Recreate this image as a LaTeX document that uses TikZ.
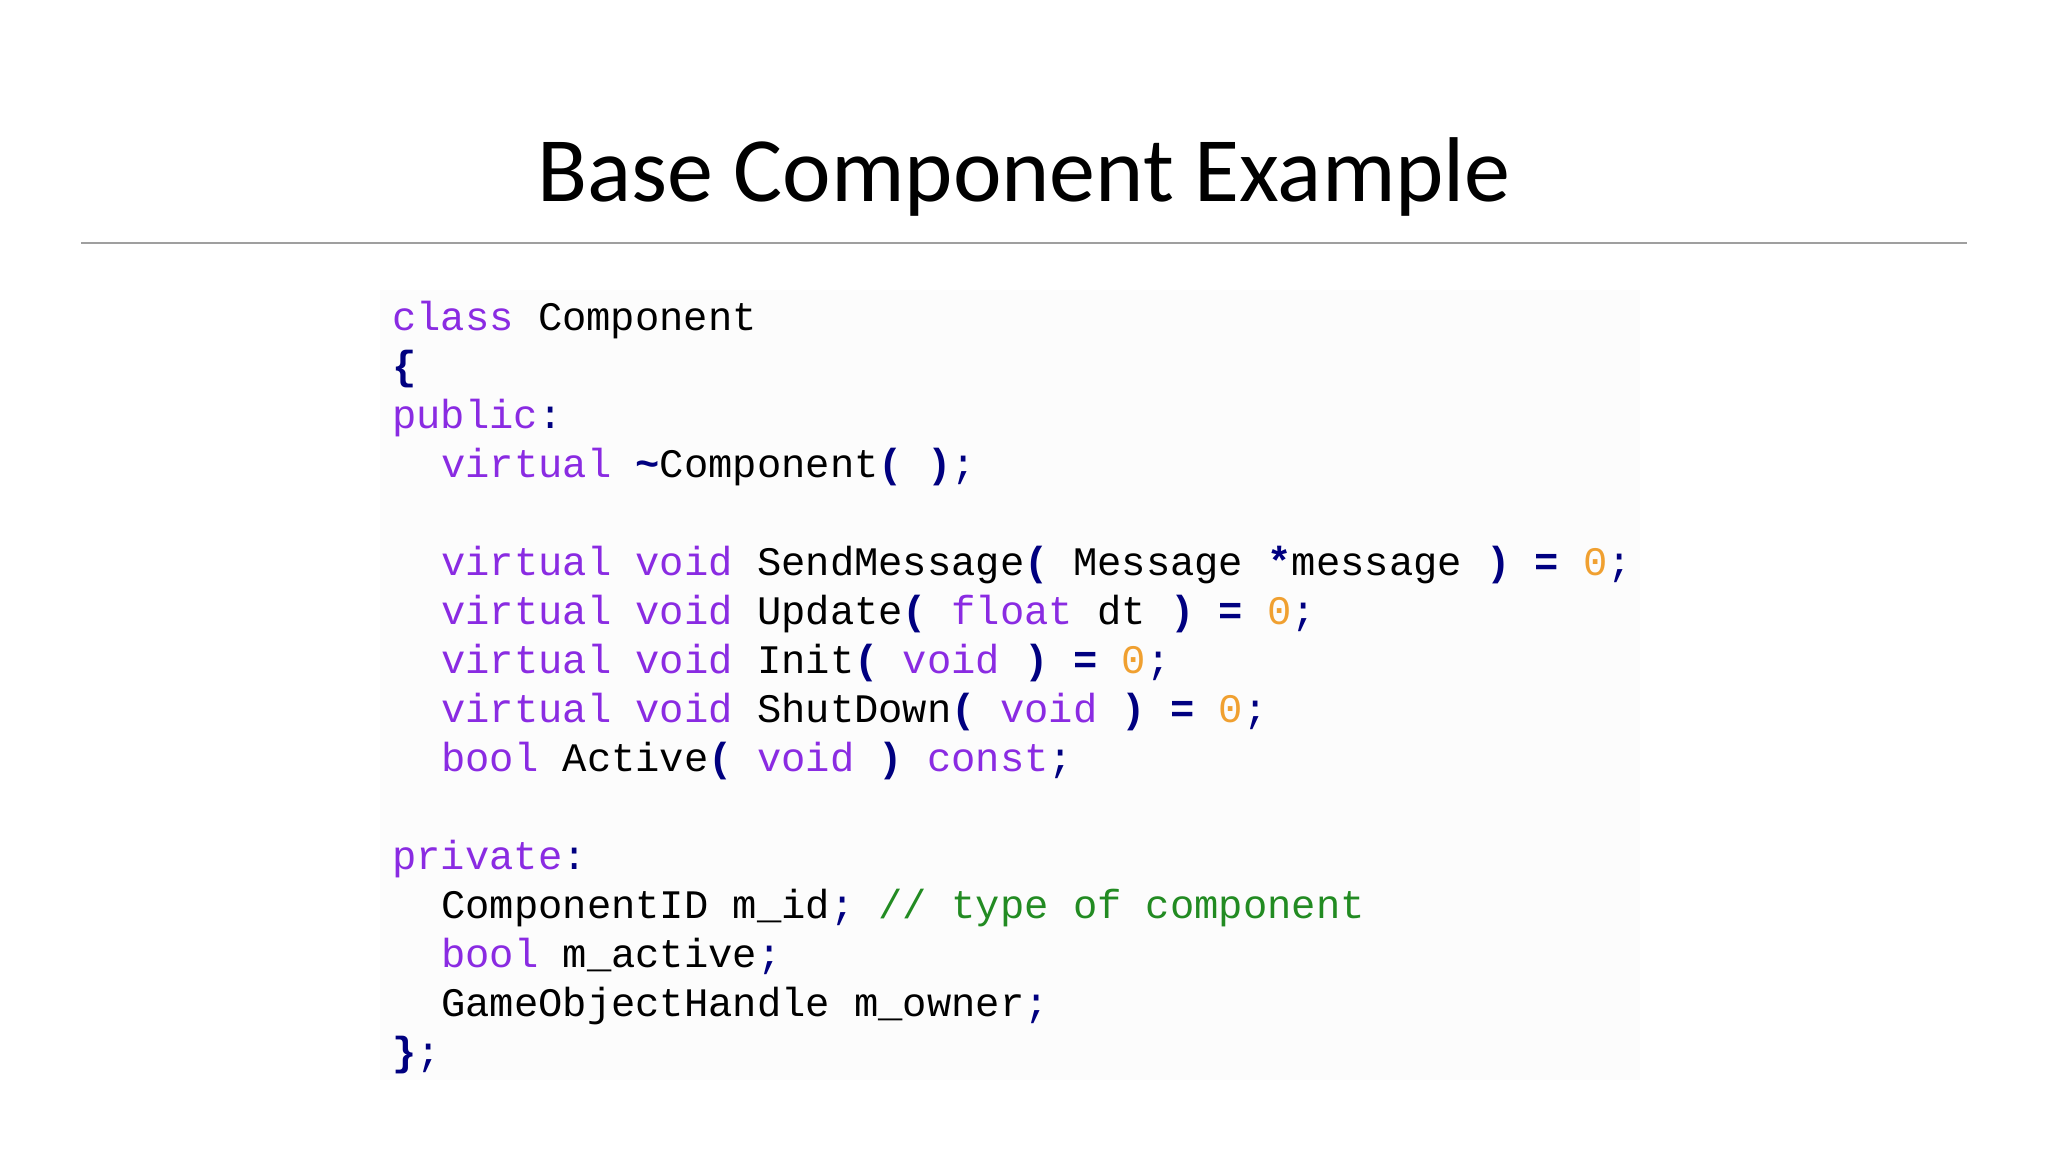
\documentclass[tikz,border=0pt]{standalone}
\usepackage{fontspec}
\setmainfont{Carlito}
\newfontfamily\codefont{Liberation Mono}
\definecolor{kw}{HTML}{8A2BE2}
\definecolor{pn}{HTML}{000080}
\definecolor{nm}{HTML}{F0A030}
\definecolor{cm}{HTML}{228B22}
\newcommand\K[1]{\textcolor{kw}{#1}}
\newcommand\B[1]{\textcolor{pn}{\bfseries #1}}
\newcommand\Q[1]{\textcolor{pn}{#1}}
\newcommand\N[1]{\textcolor{nm}{#1}}
\newcommand\Cm[1]{\textcolor{cm}{#1}}
\begin{document}
\begin{tikzpicture}[x=1pt,y=-1pt,
  code/.style={anchor=base west,inner sep=0pt,font=\codefont\fontsize{40.5}{40.5}\selectfont}]
\useasboundingbox[fill=white] (0,0) rectangle (2048,1152);
\node[font=\fontsize{92}{92}\selectfont] (title) at (1024,177) {Base Component Example};
\draw[gray!75,line width=2.5pt] (81,243) -- (1967,243);
\fill[black!1] (380,290) rectangle (1640,1080);
\node[code] (l0) at (392,330) {\K{class} Component};
\node[code] (l1) at (392,379) {\B{\{}};
\node[code] (l2) at (392,428) {\K{public}\Q{:}};
\node[code] (l3) at (441,477) {\K{virtual} \B{\textasciitilde}Component\B{( )}\Q{;}};
\node[code] (l5) at (441,575) {\K{virtual} \K{void} SendMessage\B{(} Message \B{*}message \B{)} \B{=} \N{0}\Q{;}};
\node[code] (l6) at (441,624) {\K{virtual} \K{void} Update\B{(} \K{float} dt \B{)} \B{=} \N{0}\Q{;}};
\node[code] (l7) at (441,673) {\K{virtual} \K{void} Init\B{(} \K{void} \B{)} \B{=} \N{0}\Q{;}};
\node[code] (l8) at (441,722) {\K{virtual} \K{void} ShutDown\B{(} \K{void} \B{)} \B{=} \N{0}\Q{;}};
\node[code] (l9) at (441,771) {\K{bool} Active\B{(} \K{void} \B{)} \K{const}\Q{;}};
\node[code] (l11) at (392,869) {\K{private}\Q{:}};
\node[code] (l12) at (441,918) {ComponentID m\_id\Q{;} \Cm{// type of component}};
\node[code] (l13) at (441,967) {\K{bool} m\_active\Q{;}};
\node[code] (l14) at (441,1016) {GameObjectHandle m\_owner\Q{;}};
\node[code] (l15) at (392,1065) {\B{\}}\Q{;}};
\end{tikzpicture}
\end{document}
